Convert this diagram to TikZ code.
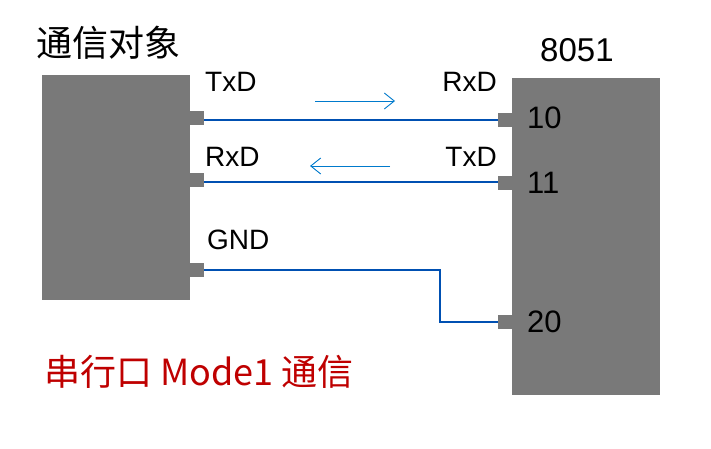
\documentclass[tikz,border=0pt]{standalone}
\usepackage{fontspec}
\setmainfont{Liberation Sans}
\newfontfamily\cjk{Noto Sans CJK SC}
\usetikzlibrary{arrows.meta}
\begin{document}
\begin{tikzpicture}[x=1pt,y=-1pt,
  box/.style={fill=gray!95!black,draw=none},
  pin/.style={fill=gray!95!black,draw=none,minimum width=14pt,minimum height=14pt,inner sep=0},
  wire/.style={draw=blue!55!cyan!70!black,line width=1.8pt},
  dir/.style={draw=blue!40!cyan!80!black,line width=0.9pt,-{Straight Barb[length=10pt,width=16pt]}},
  lab/.style={font=\fontsize{28}{30}\selectfont,inner sep=0}]
\useasboundingbox (0,0) rectangle (711,449);
\fill[white] (0,0) rectangle (711,449);
\node[box,minimum width=148pt,minimum height=225pt,anchor=north west] (L) at (42,75) {};
\node[box,minimum width=148pt,minimum height=317pt,anchor=north west] (R) at (512,78) {};
\node[pin] (l1) at (197,118) {};
\node[pin] (l2) at (197,180) {};
\node[pin] (l3) at (197,270) {};
\node[pin] (r1) at (505,120) {};
\node[pin] (r2) at (505,183) {};
\node[pin] (r3) at (505,322) {};
\draw[wire] (l1.east|-0,120) -- (r1.west|-0,120);
\draw[wire] (l2.east|-0,182) -- (r2.west|-0,182);
\draw[wire] (l3.east) -- (440,270) -- (440,322) -- (r3.west);
\coordinate (a1) at (315,101); \coordinate (a2) at (395,101);
\coordinate (b1) at (390,166); \coordinate (b2) at (310,166);
\draw[dir] (a1) -- (a2);
\draw[dir] (b1) -- (b2);
\node[font=\cjk\fontsize{36}{38}\selectfont,anchor=west,inner sep=0] (t) at (36,43) {通信对象};
\node[lab,anchor=west,font=\fontsize{33}{35}\selectfont] (n) at (540,50) {8051};
\node[lab,anchor=west] at (205,82) {TxD};
\node[lab,anchor=east] at (497,82) {RxD};
\node[lab,anchor=west] at (205,157) {RxD};
\node[lab,anchor=east] at (497,157) {TxD};
\node[lab,anchor=west] at (207,240) {GND};
\node[lab,anchor=west,font=\fontsize{31}{33}\selectfont] at (527,118) {10};
\node[lab,anchor=west,font=\fontsize{31}{33}\selectfont] at (527,183) {11};
\node[lab,anchor=west,font=\fontsize{31}{33}\selectfont] at (527,322) {20};
\node[anchor=west,inner sep=0,text=red!75!black,font=\cjk\fontsize{36}{38}\selectfont] at (44,372) {串行口 Mode1 通信};
\end{tikzpicture}
\end{document}
